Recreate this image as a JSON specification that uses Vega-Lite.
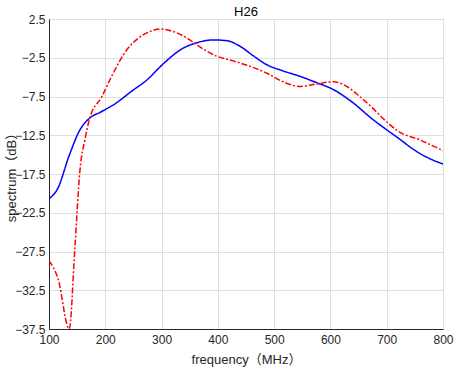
{
  "$schema": "https://vega.github.io/schema/vega-lite/v6.json",
  "width": 394,
  "height": 310,
  "autosize": {"type": "none"},
  "padding": {"left": 49, "top": 19, "right": 31, "bottom": 43},
  "background": "white",
  "title": {"text": "H26", "fontSize": 13, "fontWeight": "normal", "font": "Liberation Sans", "color": "#000000", "offset": -6},
  "config": {
    "view": {"stroke": "#262626", "strokeWidth": 1},
    "axis": {
      "labelFont": "Liberation Sans, Noto Sans CJK SC",
      "titleFont": "Liberation Sans, Noto Sans CJK SC",
      "labelFontSize": 12,
      "titleFontSize": 13,
      "titleFontWeight": "normal",
      "labelColor": "#262626",
      "titleColor": "#262626",
      "gridColor": "#dfdfdf",
      "domainColor": "#262626",
      "tickColor": "#262626",
      "ticks": false,
      "labelFlush": false
    }
  },
  "data": {
    "values": [
      {"f": 100, "s": -20.7, "series": "blue"},
      {"f": 116, "s": -19.3, "series": "blue"},
      {"f": 135, "s": -15.3, "series": "blue"},
      {"f": 155, "s": -11.8, "series": "blue"},
      {"f": 172, "s": -10.3, "series": "blue"},
      {"f": 192, "s": -9.5, "series": "blue"},
      {"f": 214, "s": -8.6, "series": "blue"},
      {"f": 249, "s": -6.7, "series": "blue"},
      {"f": 275, "s": -5.3, "series": "blue"},
      {"f": 297, "s": -3.7, "series": "blue"},
      {"f": 315, "s": -2.5, "series": "blue"},
      {"f": 333, "s": -1.5, "series": "blue"},
      {"f": 363, "s": -0.56, "series": "blue"},
      {"f": 391, "s": -0.2, "series": "blue"},
      {"f": 416, "s": -0.3, "series": "blue"},
      {"f": 439, "s": -1.0, "series": "blue"},
      {"f": 462, "s": -2.2, "series": "blue"},
      {"f": 487, "s": -3.4, "series": "blue"},
      {"f": 516, "s": -4.2, "series": "blue"},
      {"f": 546, "s": -4.9, "series": "blue"},
      {"f": 575, "s": -5.7, "series": "blue"},
      {"f": 605, "s": -6.6, "series": "blue"},
      {"f": 640, "s": -8.3, "series": "blue"},
      {"f": 676, "s": -10.5, "series": "blue"},
      {"f": 700, "s": -11.8, "series": "blue"},
      {"f": 723, "s": -13.0, "series": "blue"},
      {"f": 747, "s": -14.3, "series": "blue"},
      {"f": 765, "s": -15.1, "series": "blue"},
      {"f": 782, "s": -15.7, "series": "blue"},
      {"f": 800, "s": -16.2, "series": "blue"},
      {"f": 100, "s": -28.7, "series": "red"},
      {"f": 116, "s": -31.0, "series": "red"},
      {"f": 136, "s": -37.5, "series": "red"},
      {"f": 146, "s": -27.0, "series": "red"},
      {"f": 155, "s": -17.0, "series": "red"},
      {"f": 164, "s": -13.0, "series": "red"},
      {"f": 172, "s": -10.4, "series": "red"},
      {"f": 194, "s": -7.5, "series": "red"},
      {"f": 214, "s": -4.5, "series": "red"},
      {"f": 238, "s": -1.5, "series": "red"},
      {"f": 262, "s": 0.2, "series": "red"},
      {"f": 280, "s": 0.9, "series": "red"},
      {"f": 297, "s": 1.2, "series": "red"},
      {"f": 320, "s": 0.9, "series": "red"},
      {"f": 345, "s": 0.05, "series": "red"},
      {"f": 368, "s": -1.1, "series": "red"},
      {"f": 398, "s": -2.3, "series": "red"},
      {"f": 427, "s": -2.9, "series": "red"},
      {"f": 457, "s": -3.6, "series": "red"},
      {"f": 487, "s": -4.5, "series": "red"},
      {"f": 516, "s": -5.6, "series": "red"},
      {"f": 546, "s": -6.2, "series": "red"},
      {"f": 575, "s": -5.9, "series": "red"},
      {"f": 605, "s": -5.6, "series": "red"},
      {"f": 629, "s": -6.2, "series": "red"},
      {"f": 652, "s": -7.5, "series": "red"},
      {"f": 675, "s": -9.0, "series": "red"},
      {"f": 693, "s": -10.3, "series": "red"},
      {"f": 723, "s": -12.1, "series": "red"},
      {"f": 759, "s": -13.1, "series": "red"},
      {"f": 780, "s": -13.8, "series": "red"},
      {"f": 800, "s": -14.5, "series": "red"}
    ]
  },
  "mark": {"type": "line", "strokeWidth": 1.5, "clip": true, "interpolate": "monotone"},
  "encoding": {
    "x": {
      "field": "f", "type": "quantitative",
      "scale": {"domain": [100, 800], "nice": false, "zero": false},
      "axis": {"title": "frequency（MHz）", "values": [100, 200, 300, 400, 500, 600, 700, 800], "labelPadding": 5, "titlePadding": 8}
    },
    "y": {
      "field": "s", "type": "quantitative",
      "scale": {"domain": [-37.5, 2.5], "nice": false, "zero": false},
      "axis": {"title": "spectrum（dB）", "values": [-37.5, -32.5, -27.5, -22.5, -17.5, -12.5, -7.5, -2.5, 2.5], "format": ".1f", "labelPadding": 4, "titleX": -31, "titleY": 155, "titleAnchor": "middle"}
    },
    "color": {
      "field": "series", "type": "nominal",
      "scale": {"domain": ["blue", "red"], "range": ["#0000ff", "#ff0000"]},
      "legend": null
    },
    "strokeDash": {
      "field": "series", "type": "nominal",
      "scale": {"domain": ["blue", "red"], "range": [[1, 0], [6, 2, 2, 2]]},
      "legend": null
    }
  }
}
